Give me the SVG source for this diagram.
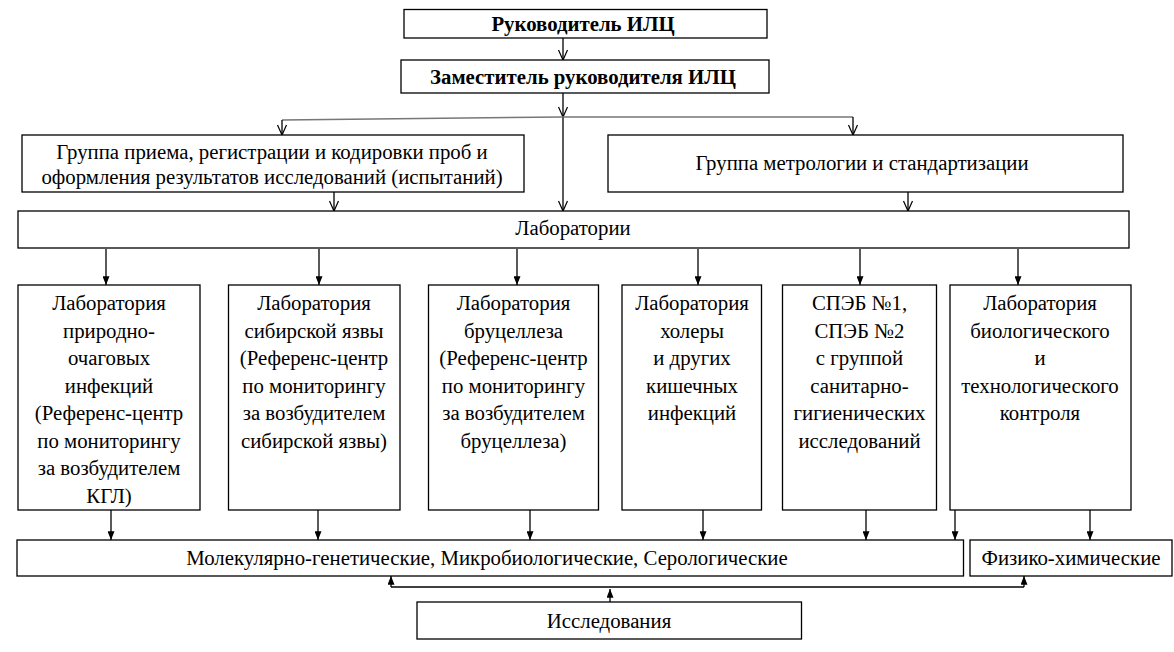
<svg xmlns="http://www.w3.org/2000/svg" width="1174" height="652" viewBox="0 0 1174 652">
<style>
  .box { fill: #fff; stroke: #000; stroke-width: 1.3; }
  .t { font-family: 'Liberation Serif', 'Times New Roman', serif; font-size: 20.8px; fill: #000; text-anchor: middle; }
  .b { font-weight: bold; }
  .c { stroke: #000; stroke-width: 1.3; fill: none; }
  .g { stroke: #777; stroke-width: 1.5; fill: none; }
</style>
<defs>
  <marker id="v" viewBox="0 0 10 10" refX="10" refY="5" markerWidth="10" markerHeight="10" orient="auto" markerUnits="userSpaceOnUse" overflow="visible">
    <path d="M0,0.5 L10,5 L0,9.5" fill="none" stroke="#000" stroke-width="1.2"/>
  </marker>
  <marker id="f" viewBox="0 0 10 8" refX="10" refY="4" markerWidth="9" markerHeight="7" orient="auto" markerUnits="userSpaceOnUse">
    <path d="M0,0 L10,4 L0,8 z" fill="#000"/>
  </marker>
</defs>
<rect width="1174" height="652" fill="#fff"/>

<g id="connectors">
  <line class="c" x1="563" y1="38" x2="563" y2="60" marker-end="url(#v)"/>
  <line class="c" x1="563" y1="93" x2="563" y2="117" marker-end="url(#v)"/>
  <line class="c" x1="563" y1="117" x2="563" y2="211" marker-end="url(#v)"/>
  <polyline class="g" points="282,120 563,117 853,117"/>
  <line class="c" x1="282" y1="120" x2="282" y2="135" marker-end="url(#v)"/>
  <line class="c" x1="853" y1="117" x2="853" y2="135" marker-end="url(#v)"/>
  <line class="c" x1="334" y1="192" x2="334" y2="211" marker-end="url(#v)"/>
  <line class="c" x1="908" y1="192" x2="908" y2="211" marker-end="url(#v)"/>

  <line class="c" x1="106" y1="249" x2="106" y2="285" marker-end="url(#f)"/>
  <line class="c" x1="319" y1="249" x2="319" y2="285" marker-end="url(#f)"/>
  <line class="c" x1="517" y1="249" x2="517" y2="285" marker-end="url(#f)"/>
  <line class="c" x1="698" y1="249" x2="698" y2="285" marker-end="url(#f)"/>
  <line class="c" x1="860" y1="249" x2="860" y2="285" marker-end="url(#f)"/>
  <line class="c" x1="1018" y1="249" x2="1018" y2="285" marker-end="url(#f)"/>

  <line class="c" x1="111" y1="510" x2="111" y2="540" marker-end="url(#f)"/>
  <line class="c" x1="318" y1="510" x2="318" y2="540" marker-end="url(#f)"/>
  <line class="c" x1="530" y1="510" x2="530" y2="540" marker-end="url(#f)"/>
  <line class="c" x1="703" y1="510" x2="703" y2="540" marker-end="url(#f)"/>
  <line class="c" x1="866" y1="510" x2="866" y2="540" marker-end="url(#f)"/>
  <line class="c" x1="955" y1="510" x2="955" y2="540" marker-end="url(#f)"/>
  <line class="c" x1="1090" y1="510" x2="1090" y2="540" marker-end="url(#f)"/>

  <line class="c" x1="391" y1="587" x2="1024" y2="587"/>
  <line class="c" x1="391" y1="587" x2="391" y2="576" marker-end="url(#f)"/>
  <line class="c" x1="1024" y1="587" x2="1024" y2="576" marker-end="url(#f)"/>
  <line class="c" x1="610" y1="602" x2="610" y2="589" marker-end="url(#f)"/>
</g>

<g id="head">
  <rect class="box" x="404" y="9.5" width="363" height="28.5"/>
  <text class="t b" x="583" y="31">Руководитель ИЛЦ</text>
</g>
<g id="deputy">
  <rect class="box" x="401" y="60" width="368" height="33"/>
  <text class="t b" x="583" y="84">Заместитель руководителя ИЛЦ</text>
</g>
<g id="group-reception">
  <rect class="box" x="22" y="135" width="502" height="57"/>
  <text class="t" x="272" y="159">Группа приема, регистрации и кодировки проб и</text>
  <text class="t" x="272" y="183.5">оформления результатов исследований (испытаний)</text>
</g>
<g id="group-metrology">
  <rect class="box" x="608" y="135" width="515" height="57"/>
  <text class="t" x="862" y="170">Группа метрологии и стандартизации</text>
</g>
<g id="laboratories">
  <rect class="box" x="18" y="211" width="1111" height="37"/>
  <text class="t" x="573" y="235">Лаборатории</text>
</g>

<g id="lab1">
  <rect class="box" x="18" y="285" width="182" height="225"/>
  <text class="t" x="109" y="310">Лаборатория</text>
  <text class="t" x="109" y="337.5">природно-</text>
  <text class="t" x="109" y="365">очаговых</text>
  <text class="t" x="109" y="392.5">инфекций</text>
  <text class="t" x="109" y="420">(Референс-центр</text>
  <text class="t" x="109" y="447.5">по мониторингу</text>
  <text class="t" x="109" y="475">за возбудителем</text>
  <text class="t" x="109" y="502.5">КГЛ)</text>
</g>
<g id="lab2">
  <rect class="box" x="228.5" y="285" width="171.5" height="225"/>
  <text class="t" x="314" y="310">Лаборатория</text>
  <text class="t" x="314" y="337.5">сибирской язвы</text>
  <text class="t" x="314" y="365">(Референс-центр</text>
  <text class="t" x="314" y="392.5">по мониторингу</text>
  <text class="t" x="314" y="420">за возбудителем</text>
  <text class="t" x="314" y="447.5">сибирской язвы)</text>
</g>
<g id="lab3">
  <rect class="box" x="428.5" y="285" width="170" height="225"/>
  <text class="t" x="513.5" y="310">Лаборатория</text>
  <text class="t" x="513.5" y="337.5">бруцеллеза</text>
  <text class="t" x="513.5" y="365">(Референс-центр</text>
  <text class="t" x="513.5" y="392.5">по мониторингу</text>
  <text class="t" x="513.5" y="420">за возбудителем</text>
  <text class="t" x="513.5" y="447.5">бруцеллеза)</text>
</g>
<g id="lab4">
  <rect class="box" x="622" y="285" width="139.5" height="225"/>
  <text class="t" x="692" y="310">Лаборатория</text>
  <text class="t" x="692" y="337.5">холеры</text>
  <text class="t" x="692" y="365">и других</text>
  <text class="t" x="692" y="392.5">кишечных</text>
  <text class="t" x="692" y="420">инфекций</text>
</g>
<g id="lab5">
  <rect class="box" x="782.5" y="285" width="154" height="225"/>
  <text class="t" x="859.5" y="310">СПЭБ №1,</text>
  <text class="t" x="859.5" y="337.5">СПЭБ №2</text>
  <text class="t" x="859.5" y="365">с группой</text>
  <text class="t" x="859.5" y="392.5">санитарно-</text>
  <text class="t" x="859.5" y="420">гигиенических</text>
  <text class="t" x="859.5" y="447.5">исследований</text>
</g>
<g id="lab6">
  <rect class="box" x="950" y="285" width="181" height="225"/>
  <text class="t" x="1040" y="310">Лаборатория</text>
  <text class="t" x="1040" y="337.5">биологического</text>
  <text class="t" x="1040" y="365">и</text>
  <text class="t" x="1040" y="392.5">технологического</text>
  <text class="t" x="1040" y="420">контроля</text>
</g>

<g id="research-types">
  <rect class="box" x="17" y="540" width="946.5" height="36"/>
  <text class="t" x="487" y="565">Молекулярно-генетические, Микробиологические, Серологические</text>
</g>
<g id="physchem">
  <rect class="box" x="970" y="540" width="202" height="36"/>
  <text class="t" x="1071" y="565">Физико-химические</text>
</g>
<g id="research">
  <rect class="box" x="417" y="602" width="384.5" height="37"/>
  <text class="t" x="609" y="628">Исследования</text>
</g>
</svg>
